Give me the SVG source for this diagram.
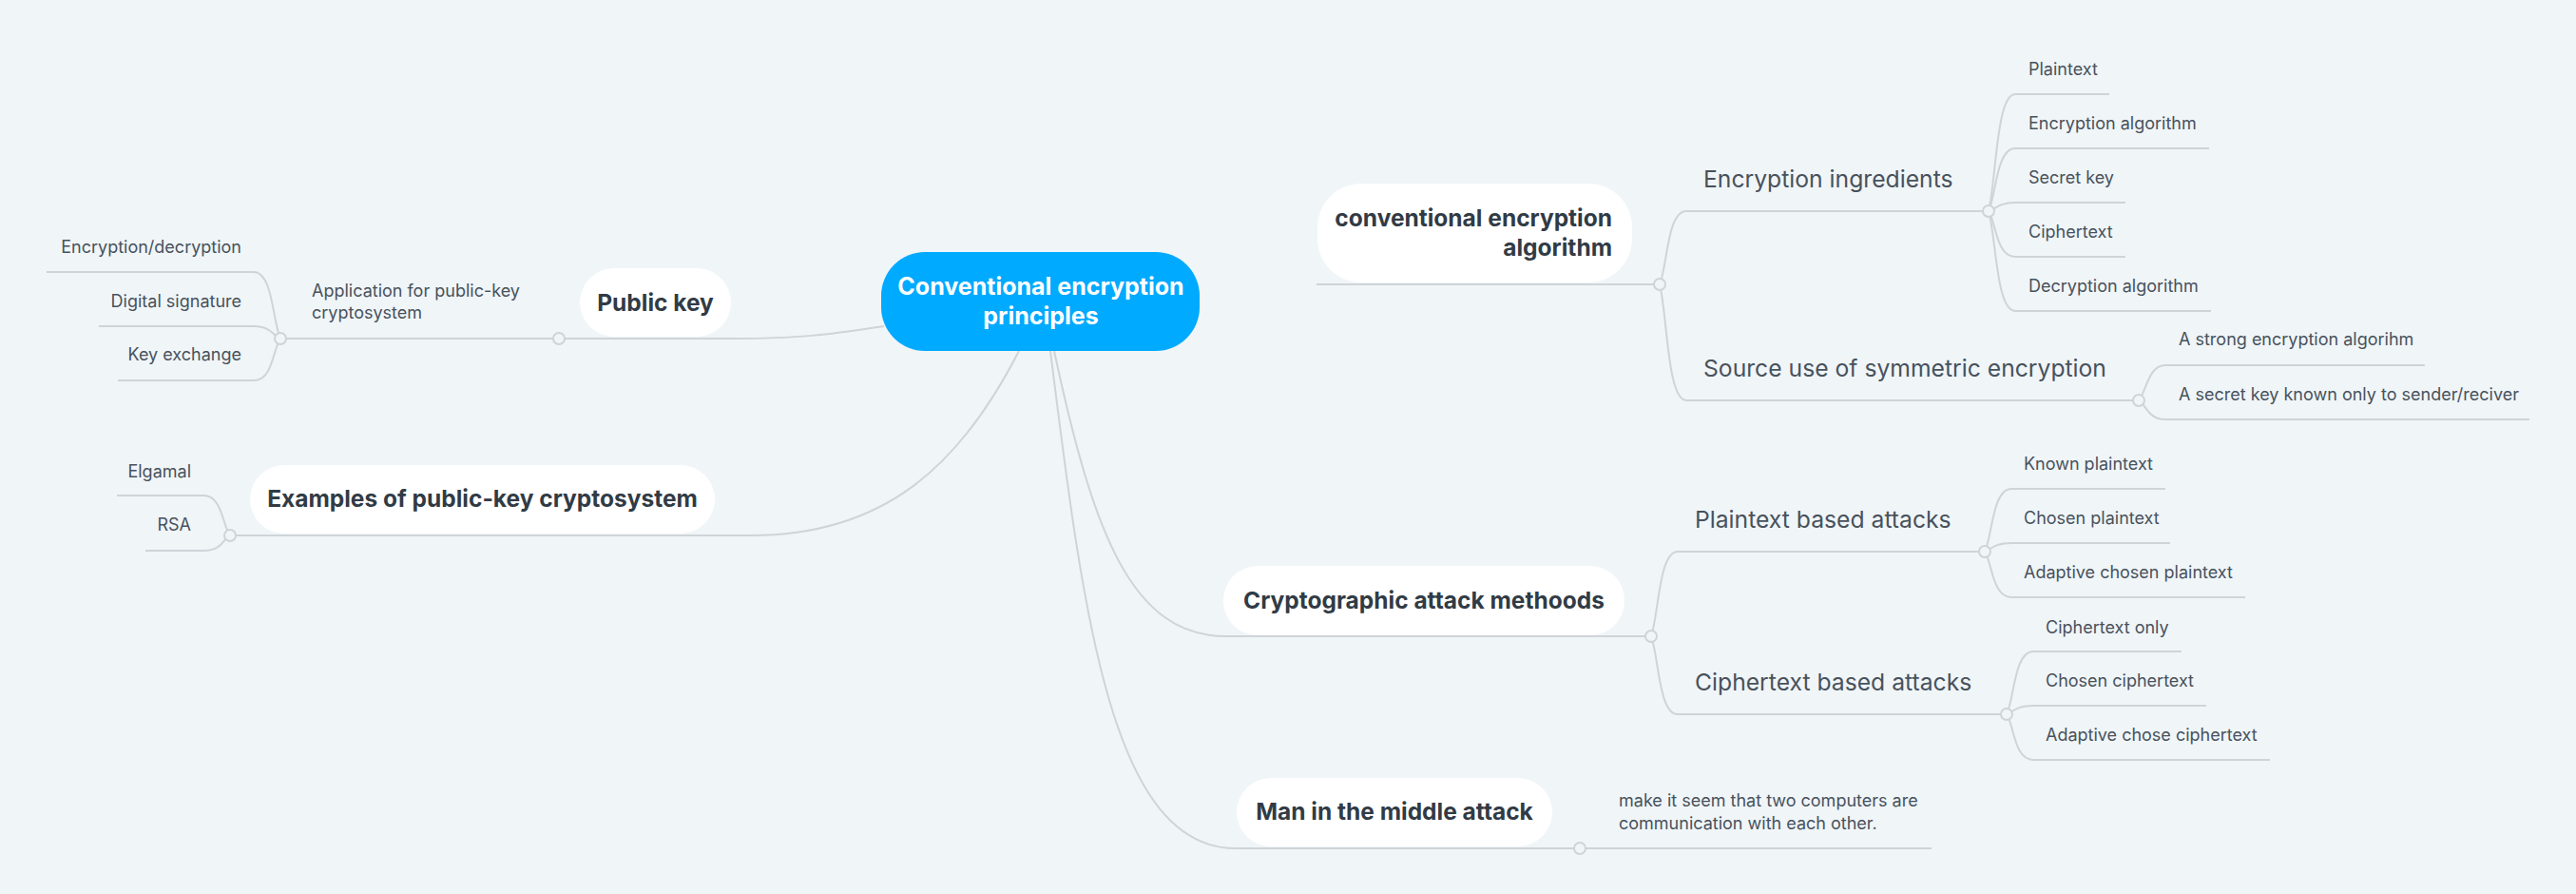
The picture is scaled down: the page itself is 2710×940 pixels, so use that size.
<svg xmlns="http://www.w3.org/2000/svg" width="2710" height="940" viewBox="0 0 2710 940">
<style>
.bg{fill:#f0f5f8}
.ln{fill:none;stroke:#cfd4d8;stroke-width:2}
.jt{fill:#f0f5f8;stroke:#cfd4d8;stroke-width:2}
.box{fill:#ffffff}
.main{font-family:Inter,"Noto Sans",sans-serif;font-weight:700;font-size:24.5px;fill:#313b45}
.central{font-family:Inter,"Noto Sans",sans-serif;font-weight:700;font-size:25px;fill:#ffffff}
.sub{font-family:Inter,"Noto Sans",sans-serif;font-size:24.7px;fill:#48525c}
.leaf{font-family:Inter,"Noto Sans",sans-serif;font-size:18px;fill:#48525c}
.app{font-family:Inter,"Noto Sans",sans-serif;font-size:18px;fill:#48525c}
</style>
<rect class="bg" x="0" y="0" width="2710" height="940"/>
<g id="connectors">
  <path class="ln" d="M930,343 C870,352 840,356 769,356 L588,356"/>
  <path class="ln" d="M1072,369 C1010,490 930,563 790,563 L242,563"/>
  <path class="ln" d="M1109,369 C1150,560 1190,669 1290,669 L1737,669"/>
  <path class="ln" d="M1105,369 C1140,650 1170,892 1300,892 L1662,892"/>
  <path class="ln" d="M1385,299 L1746,299"/>
  <path class="ln" d="M1746,299 C1754,280 1754,222 1774,222 L2092,222"/>
  <path class="ln" d="M1746,299 C1754,330 1754,421 1774,421 L2250,421"/>
  <path class="ln" d="M2092,222 C2100,191 2100,99 2120,99 L2219,99"/>
  <path class="ln" d="M2092,222 C2100,206 2100,156 2120,156 L2324,156"/>
  <path class="ln" d="M2092,222 C2100,220 2102,213 2120,213 L2236,213"/>
  <path class="ln" d="M2092,222 C2100,234 2100,270 2120,270 L2236,270"/>
  <path class="ln" d="M2092,222 C2100,249 2100,327 2120,327 L2326,327"/>
  <path class="ln" d="M2250,421 C2258,412 2260,384 2278,384 L2551,384"/>
  <path class="ln" d="M2250,421 C2258,426 2260,441 2278,441 L2661,441"/>
  <path class="ln" d="M1737,669 C1745,647 1745,580 1765,580 L2088,580"/>
  <path class="ln" d="M1737,669 C1745,690 1745,751 1765,751 L2111,751"/>
  <path class="ln" d="M2088,580 C2096,564 2096,514 2116,514 L2278,514"/>
  <path class="ln" d="M2088,580 C2096,577 2098,571 2116,571 L2283,571"/>
  <path class="ln" d="M2088,580 C2096,592 2096,628 2116,628 L2362,628"/>
  <path class="ln" d="M2111,751 C2119,735 2119,685 2139,685 L2295,685"/>
  <path class="ln" d="M2111,751 C2119,748 2121,742 2139,742 L2321,742"/>
  <path class="ln" d="M2111,751 C2119,763 2119,799 2139,799 L2388,799"/>
  <path class="ln" d="M1662,892 L2032,892"/>
  <path class="ln" d="M588,356 L295,356"/>
  <path class="ln" d="M295,356 C287,339 287,286 267,286 L49,286"/>
  <path class="ln" d="M295,356 C287,353 285,343 267,343 L104,343"/>
  <path class="ln" d="M295,356 C287,367 287,400 267,400 L124,400"/>
  <path class="ln" d="M242,563 C234,553 234,521 214,521 L123,521"/>
  <path class="ln" d="M242,563 C234,567 234,579 214,579 L153,579"/>
</g>
<g id="joints">
  <circle class="jt" cx="588" cy="356" r="6"/>
  <circle class="jt" cx="295" cy="356" r="6"/>
  <circle class="jt" cx="242" cy="563" r="6"/>
  <circle class="jt" cx="1746" cy="299" r="6"/>
  <circle class="jt" cx="2092" cy="222" r="6"/>
  <circle class="jt" cx="2250" cy="421" r="6"/>
  <circle class="jt" cx="1737" cy="669" r="6"/>
  <circle class="jt" cx="2088" cy="580" r="6"/>
  <circle class="jt" cx="2111" cy="751" r="6"/>
  <circle class="jt" cx="1662" cy="892" r="6"/>
</g>
<g id="central">
  <rect x="927" y="265" width="335" height="104" rx="46" fill="#00aaff"/>
  <text class="central" x="1095" y="310" text-anchor="middle">Conventional encryption</text>
  <text class="central" x="1095" y="341" text-anchor="middle">principles</text>
</g>
<g id="public-key">
  <rect class="box" x="610" y="282" width="159" height="72" rx="36"/>
  <text class="main" x="689.5" y="327" text-anchor="middle">Public key</text>
</g>
<g id="application">
  <text class="app" x="328" y="312">Application for public-key</text>
  <text class="app" x="328" y="335">cryptosystem</text>
</g>
<g id="enc-dec"><text class="leaf" x="254" y="266" text-anchor="end">Encryption/decryption</text></g>
<g id="digital-signature"><text class="leaf" x="254" y="323" text-anchor="end">Digital signature</text></g>
<g id="key-exchange"><text class="leaf" x="254" y="379" text-anchor="end">Key exchange</text></g>
<g id="examples">
  <rect class="box" x="263" y="489" width="489" height="72" rx="36"/>
  <text class="main" x="507.5" y="533" text-anchor="middle">Examples of public-key cryptosystem</text>
</g>
<g id="elgamal"><text class="leaf" x="201" y="502" text-anchor="end">Elgamal</text></g>
<g id="rsa"><text class="leaf" x="201" y="558" text-anchor="end">RSA</text></g>
<g id="conv-alg">
  <rect class="box" x="1386" y="193" width="331" height="104" rx="46"/>
  <text class="main" x="1696" y="238" text-anchor="end">conventional encryption</text>
  <text class="main" x="1696" y="269" text-anchor="end">algorithm</text>
</g>
<g id="ingredients"><text class="sub" x="1792" y="197">Encryption ingredients</text></g>
<g id="plaintext"><text class="leaf" x="2134" y="79">Plaintext</text></g>
<g id="enc-alg"><text class="leaf" x="2134" y="136">Encryption algorithm</text></g>
<g id="secret-key"><text class="leaf" x="2134" y="193">Secret key</text></g>
<g id="ciphertext"><text class="leaf" x="2134" y="250">Ciphertext</text></g>
<g id="dec-alg"><text class="leaf" x="2134" y="307">Decryption algorithm</text></g>
<g id="source-use"><text class="sub" x="1792" y="396">Source use of symmetric encryption</text></g>
<g id="strong-alg"><text class="leaf" x="2292" y="363">A strong encryption algorihm</text></g>
<g id="secret-known"><text class="leaf" x="2292" y="421">A secret key known only to sender/reciver</text></g>
<g id="attack-methods">
  <rect class="box" x="1287" y="595" width="422" height="73" rx="36"/>
  <text class="main" x="1498" y="640" text-anchor="middle">Cryptographic attack methoods</text>
</g>
<g id="plaintext-attacks"><text class="sub" x="1783" y="555">Plaintext based attacks</text></g>
<g id="known-pt"><text class="leaf" x="2129" y="494">Known plaintext</text></g>
<g id="chosen-pt"><text class="leaf" x="2129" y="551">Chosen plaintext</text></g>
<g id="adaptive-pt"><text class="leaf" x="2129" y="608">Adaptive chosen plaintext</text></g>
<g id="ciphertext-attacks"><text class="sub" x="1783" y="726">Ciphertext based attacks</text></g>
<g id="ct-only"><text class="leaf" x="2152" y="666">Ciphertext only</text></g>
<g id="chosen-ct"><text class="leaf" x="2152" y="722">Chosen ciphertext</text></g>
<g id="adaptive-ct"><text class="leaf" x="2152" y="779">Adaptive chose ciphertext</text></g>
<g id="mitm">
  <rect class="box" x="1301" y="818" width="332" height="72" rx="36"/>
  <text class="main" x="1467" y="862" text-anchor="middle">Man in the middle attack</text>
</g>
<g id="mitm-note">
  <text class="leaf" x="1703" y="848">make it seem that two computers are</text>
  <text class="leaf" x="1703" y="872">communication with each other.</text>
</g>
</svg>
